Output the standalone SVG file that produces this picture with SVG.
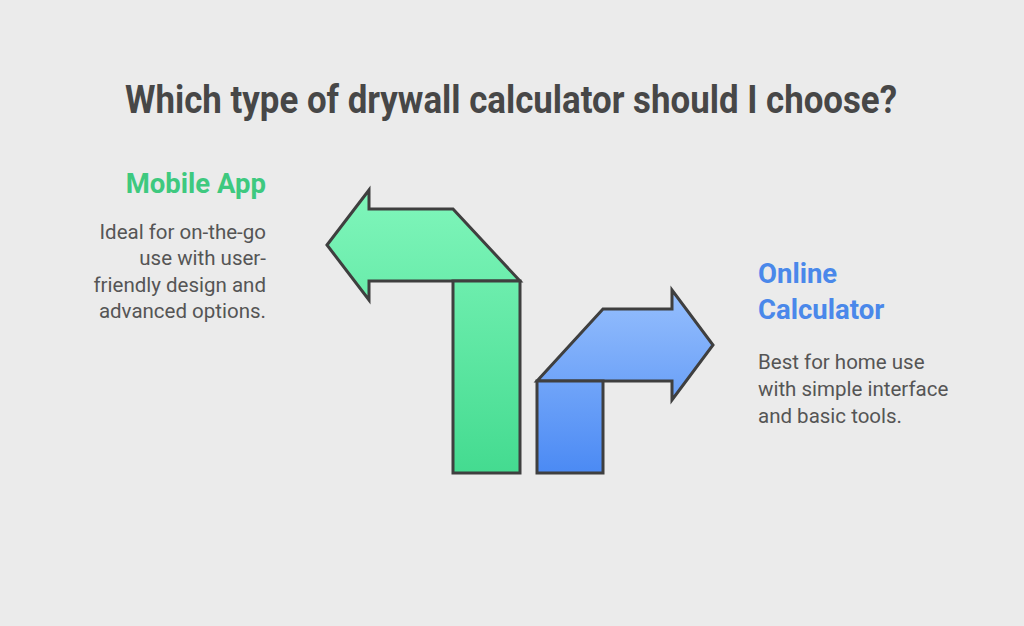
<svg xmlns="http://www.w3.org/2000/svg" width="1024" height="626" viewBox="0 0 1024 626">
<defs>
<linearGradient id="gGreen" gradientUnits="userSpaceOnUse" x1="0" y1="190" x2="0" y2="473"><stop offset="0" stop-color="#80f6bb"/><stop offset="1" stop-color="#44db90"/></linearGradient>
<linearGradient id="gBlue" gradientUnits="userSpaceOnUse" x1="0" y1="290" x2="0" y2="473"><stop offset="0" stop-color="#96bffd"/><stop offset="1" stop-color="#4b8af4"/></linearGradient>
</defs>
<style>
.arrow{stroke:#3f3f3f;stroke-width:3;stroke-linejoin:miter}
.title{font-family:Roboto,"Liberation Sans",sans-serif;font-weight:bold;font-size:38px;fill:#474747}
.head{font-family:Roboto,"Liberation Sans",sans-serif;font-weight:bold;font-size:27.5px}
.desc{font-family:Roboto,"Liberation Sans",sans-serif;font-size:20.5px;fill:#555555}
</style>
<rect width="1024" height="626" fill="#ebebeb"/>
<text class="title" x="511" y="113" text-anchor="middle" textLength="772" lengthAdjust="spacingAndGlyphs">Which type of drywall calculator should I choose?</text>
<g id="connectors">
<path class="arrow" fill="url(#gGreen)" d="M327,245 L369,190 L369,209 L453,209 L520,281 L369,281 L369,300 Z"/>
<rect class="arrow" fill="url(#gGreen)" x="453" y="281" width="67" height="192"/>
<path class="arrow" fill="url(#gBlue)" d="M537,381 L603,309 L672,309 L672,290 L713,345 L672,400 L672,381 Z"/>
<rect class="arrow" fill="url(#gBlue)" x="537" y="381" width="66" height="92"/>
</g>
<g id="mobile-app">
<text class="head" x="266" y="193" text-anchor="end" fill="#3ec97f">Mobile App</text>
<text class="desc" text-anchor="end"><tspan x="266" y="239">Ideal for on-the-go</tspan><tspan x="266" y="265">use with user-</tspan><tspan x="266" y="292">friendly design and</tspan><tspan x="266" y="318">advanced options.</tspan></text>
</g>
<g id="online-calculator">
<text class="head" fill="#4a88ea"><tspan x="758" y="283">Online</tspan><tspan x="758" y="319">Calculator</tspan></text>
<text class="desc"><tspan x="758" y="369">Best for home use</tspan><tspan x="758" y="396">with simple interface</tspan><tspan x="758" y="423">and basic tools.</tspan></text>
</g>
</svg>
